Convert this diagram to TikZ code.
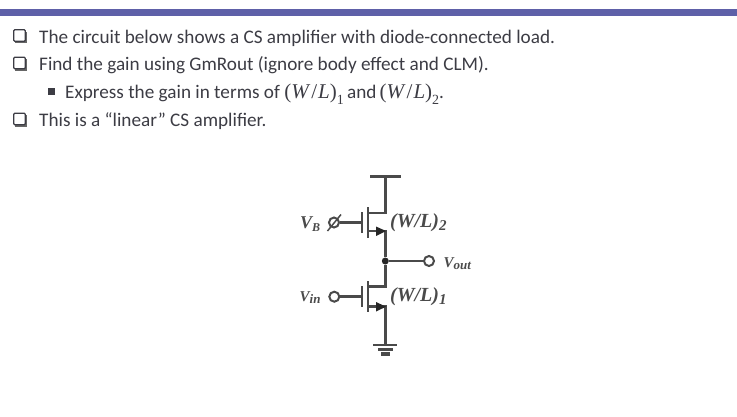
\documentclass[tikz,border=0pt]{standalone}
\usepackage{fontspec}
\setmainfont{Carlito}
\newfontfamily\cirfont{Liberation Serif}
\definecolor{barcol}{HTML}{5E60A8}
\definecolor{txtcol}{HTML}{3C3C44}
\definecolor{circol}{HTML}{4A4A4A}
\tikzset{
  x=1pt,y=-1pt,
  wire/.style={draw=circol,line width=2.5pt},
  bar/.style={draw=circol,line width=2.9pt},
  pin/.style={circle,draw=circol,line width=2pt,fill=white,minimum size=10pt,inner sep=0pt},
  dot/.style={circle,fill=black!85,minimum size=7pt,inner sep=0pt},
  line/.style={anchor=base west,inner sep=0pt,text=txtcol,font=\fontsize{19.2}{19.2}\selectfont},
  lab/.style={anchor=base west,inner sep=0pt,text=circol},
  chk/.style={draw=txtcol,line width=1.4pt,rounded corners=1pt,minimum size=11.5pt,inner sep=0pt,fill=white},
}
\newcommand{\wl}[1]{{\cirfont\fontsize{21}{21}\selectfont(\textit{W}\kern1pt/\kern1pt\textit{L})\raisebox{-0.3em}{\fontsize{14}{14}\selectfont #1}}}
\begin{document}
\begin{tikzpicture}
\useasboundingbox (0,0) rectangle (737,416);
\fill[barcol] (0,9) rectangle (737,16);
% bullets
\foreach \n/\yy in {b1/35.5,b2/63,b3/119}{
  \fill[black!60] (14.5,\yy-4) rectangle (27,\yy+7.5);
  \node[chk] (\n) at (19.5,\yy) {};
}
\fill[txtcol] (48,88) rectangle (54.5,95);
\node[line] (t1) at (39,43) {The circuit below shows a CS amplifier with diode-connected load.};
\node[line] (t2) at (39,70.5) {Find the gain using GmRout (ignore body effect and CLM).};
\node[line] (t3) at (65,98) {Express the gain in terms of \wl{1}\,and\,\wl{2}.};
\node[line] (t4) at (39,126) {This is a “linear” CS amplifier.};
% circuit coordinates
\coordinate (vddL) at (370,176.7); \coordinate (vddR) at (401,176.7);
\coordinate (d2) at (385.3,176.7);
\coordinate (d2b) at (385.3,213); \coordinate (ch2d) at (368,213);
\coordinate (s2) at (385.3,231); \coordinate (ch2s) at (368,231);
\coordinate (d1) at (385.3,286.7); \coordinate (ch1d) at (368,286.7);
\coordinate (s1) at (385.3,306.7); \coordinate (ch1s) at (368,306.7);
\coordinate (gnd) at (385.3,345);
\coordinate (g2) at (362,222.5); \coordinate (g1) at (362,296.7);
\node[dot] (mid) at (385.3,261) {};
\node[pin] (vb) at (334,222.5) {};
\node[pin] (vin) at (334.3,296.7) {};
\node[pin] (vout) at (429,261) {};
% supply
\draw[bar] (vddL) -- (vddR);
\draw[wire] (d2) -- (d2b) -- (ch2d);
\draw[wire] (ch2s) -- (s2) -- (mid);
\draw[bar] (368,207) -- (368,238);
\draw[bar] (362,212) -- (362,233);
\draw[wire] (vb) -- (g2);
\draw[wire] (mid) -- (vout);
\draw[wire] (mid) -- (d1) -- (ch1d);
\draw[wire] (ch1s) -- (s1) -- (gnd);
\draw[bar] (368,281) -- (368,312);
\draw[bar] (362,286) -- (362,307);
\draw[wire] (vin) -- (g1);
% arrows
\fill[black!85] (376,226.5) -- (386,231) -- (376,236) -- cycle;
\fill[black!85] (376,302) -- (386,306.7) -- (376,311.5) -- cycle;
% slash through VB pin
\draw[circol,line width=1.5pt] (327.5,231) -- (341,214.5);
% ground
\draw[bar] (373,345) -- (397,345);
\draw[bar] (378,349.7) -- (393,349.7);
\draw[circol,line width=4pt] (381,354) -- (390,354);
% labels
\node[lab,font=\cirfont\bfseries\itshape\fontsize{18}{18}\selectfont] (lvb) at (300,228) {V\raisebox{-0.2em}{\fontsize{12}{12}\selectfont B}};
\node[lab,font=\cirfont\bfseries\itshape\fontsize{15}{15}\selectfont] (lvin) at (299.5,301) {V\raisebox{-0.15em}{\fontsize{13}{13}\selectfont in}};
\node[lab,font=\cirfont\bfseries\itshape\fontsize{15}{15}\selectfont] (lvout) at (443.5,267) {V\raisebox{-0.15em}{\fontsize{13}{13}\selectfont out}};
\node[lab,font=\cirfont\bfseries\itshape\fontsize{20}{20}\selectfont] (w2) at (390,227.5) {(W/L)\raisebox{-0.15em}{\fontsize{15}{15}\selectfont 2}};
\node[lab,font=\cirfont\bfseries\itshape\fontsize{20}{20}\selectfont] (w1) at (390,301.5) {(W/L)\raisebox{-0.15em}{\fontsize{15}{15}\selectfont 1}};
\end{tikzpicture}
\end{document}
